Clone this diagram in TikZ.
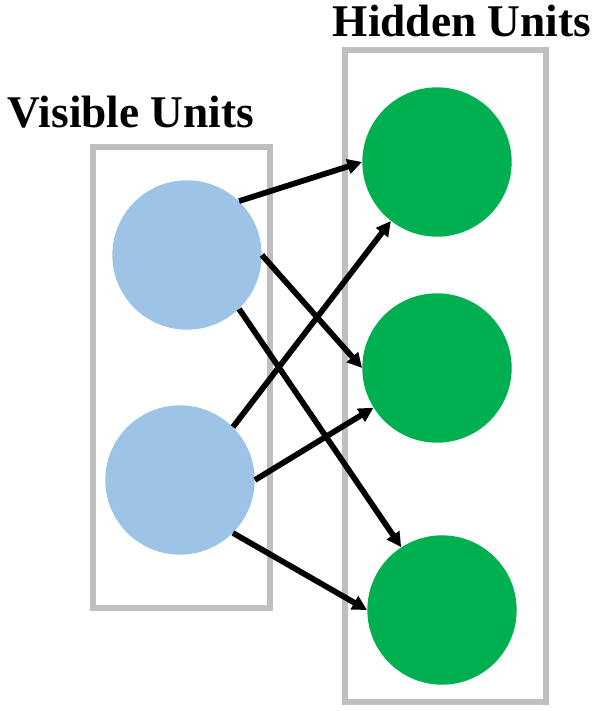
\documentclass[tikz,border=0pt]{standalone}
\usepackage{fontspec}
\setmainfont{Liberation Serif}
\usetikzlibrary{arrows.meta}
\begin{document}
\begin{tikzpicture}[x=0.75pt,y=-0.75pt,
  box/.style={draw={rgb,255:red,191;green,191;blue,191},line width=3.8pt},
  vis/.style={circle,fill={rgb,255:red,157;green,195;blue,230},minimum size=112pt,inner sep=0pt},
  hid/.style={circle,fill={rgb,255:red,0;green,176;blue,80},minimum size=112pt,inner sep=0pt},
  conn/.style={line width=4.3pt,-{Triangle[length=11pt,width=11pt]}},
  lbl/.style={font=\bfseries\fontsize{34}{40}\selectfont,inner sep=0pt}]
\useasboundingbox (0,0) rectangle (600,711);
\node[box,minimum width=132.75pt,minimum height=345.75pt,inner sep=0pt] (vbox) at (181.5,377.5) {};
\node[box,minimum width=150.75pt,minimum height=489pt,inner sep=0pt] (hbox) at (445.5,376) {};
\node[lbl,anchor=base] (vl) at (131,127) {Visible Units};
\node[lbl,anchor=base] (hl) at (462,36) {Hidden Units};
\node[vis] (v1) at (187,255) {};
\node[vis] (v2) at (180,480) {};
\node[hid] (h1) at (437,162) {};
\node[hid] (h2) at (437,368) {};
\node[hid] (h3) at (442,610) {};
\draw[conn] (v1.46) -- (h1.180);
\draw[conn] (v1.0) -- (h2.180);
\draw[conn] (v1.-46) -- (h3.123);
\draw[conn] (v2.45) -- (h1.232);
\draw[conn] (v2.0) -- (h2.212);
\draw[conn] (v2.-45) -- (h3.180);
\end{tikzpicture}
\end{document}
